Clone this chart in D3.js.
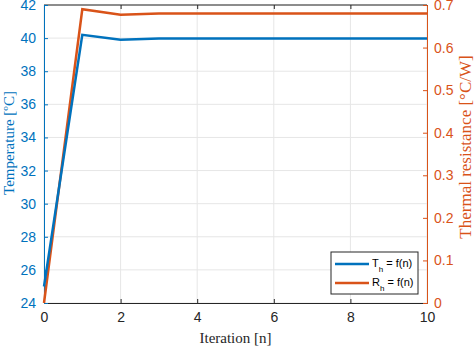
<!DOCTYPE html>
<html>
<head>
<meta charset="utf-8">
<script src="https://cdn.jsdelivr.net/npm/d3@7"></script>
<style>
  body { margin: 0; background: #fff; }
  svg { display: block; }
</style>
</head>
<body>
<div id="plot"></div>
<script>
// Chart data
const iterations = [0, 1, 2, 3, 4, 5, 6, 7, 8, 9, 10];
const tempValues = [25.0, 40.2, 39.9, 39.98, 39.97, 39.97, 39.97, 39.97, 39.97, 39.97, 39.97];
const resValues = [0.0, 0.69, 0.677, 0.68, 0.68, 0.68, 0.68, 0.68, 0.68, 0.68, 0.68];
const xTicks = [0, 2, 4, 6, 8, 10];
const tempTicks = [24, 26, 28, 30, 32, 34, 36, 38, 40, 42];
const resTicks = [0, 0.1, 0.2, 0.3, 0.4, 0.5, 0.6, 0.7];

const blue = "#0072BD";
const orange = "#D95319";

const width = 474, height = 350;
const margin = {top: 5, right: 47, bottom: 47, left: 44};
const innerWidth = width - margin.left - margin.right;
const innerHeight = height - margin.top - margin.bottom;

const svg = d3.select("#plot").append("svg")
    .attr("width", width)
    .attr("height", height);

const g = svg.append("g")
    .attr("transform", `translate(${margin.left},${margin.top})`);

const x = d3.scaleLinear().domain([0, 10]).range([0, innerWidth]);
const yTemp = d3.scaleLinear().domain([24, 42]).range([innerHeight, 0]);
const yRes = d3.scaleLinear().domain([0, 0.7]).range([innerHeight, 0]);

// Grid lines
g.append("g")
    .selectAll("line")
    .data(xTicks)
    .enter().append("line")
    .attr("x1", d => x(d)).attr("x2", d => x(d))
    .attr("y1", 0).attr("y2", innerHeight)
    .attr("stroke", "#e6e6e6").attr("stroke-width", 1);

g.append("g")
    .selectAll("line")
    .data(tempTicks)
    .enter().append("line")
    .attr("x1", 0).attr("x2", innerWidth)
    .attr("y1", d => yTemp(d)).attr("y2", d => yTemp(d))
    .attr("stroke", "#e6e6e6").attr("stroke-width", 1);

const tickFont = "'Liberation Sans', Arial, sans-serif";

// X axis
const xAxis = g.append("g")
    .attr("transform", `translate(0,${innerHeight})`)
    .call(d3.axisBottom(x).tickValues(xTicks).tickSize(-4).tickPadding(9).tickFormat(d3.format("d")))
    .attr("font-size", 14)
    .attr("font-family", tickFont);
xAxis.select(".domain").attr("stroke", "#262626");
xAxis.selectAll(".tick line").attr("stroke", "#262626");
xAxis.selectAll("text").attr("fill", "#262626");

// top border
g.append("line")
    .attr("x1", 0).attr("x2", innerWidth).attr("y1", 0).attr("y2", 0)
    .attr("stroke", "#262626");

const xTop = g.append("g")
    .call(d3.axisTop(x).tickValues(xTicks).tickSize(-4).tickFormat(""));
xTop.select(".domain").remove();
xTop.selectAll(".tick line").attr("stroke", "#262626");

// Left axis
const leftAxis = g.append("g")
    .call(d3.axisLeft(yTemp).tickValues(tempTicks).tickSize(-4).tickPadding(8))
    .attr("font-size", 14)
    .attr("font-family", tickFont);
leftAxis.select(".domain").attr("stroke", blue);
leftAxis.selectAll(".tick line").attr("stroke", blue);
leftAxis.selectAll("text").attr("fill", blue);

// Right axis
const rightAxis = g.append("g")
    .attr("transform", `translate(${innerWidth},0)`)
    .call(d3.axisRight(yRes).tickValues(resTicks).tickSize(-4).tickPadding(7)
        .tickFormat(d => d === 0 ? "0" : d3.format(".1f")(d)))
    .attr("font-size", 14)
    .attr("font-family", tickFont);
rightAxis.select(".domain").attr("stroke", orange);
rightAxis.selectAll(".tick line").attr("stroke", orange);
rightAxis.selectAll("text").attr("fill", orange);

// Lines
g.append("path")
    .datum(iterations.map((d, i) => ({n: d, v: resValues[i]})))
    .attr("fill", "none")
    .attr("stroke", orange)
    .attr("stroke-width", 2.5)
    .attr("d", d3.line().x(d => x(d.n)).y(d => yRes(d.v)));

g.append("path")
    .datum(iterations.map((d, i) => ({n: d, v: tempValues[i]})))
    .attr("fill", "none")
    .attr("stroke", blue)
    .attr("stroke-width", 2.5)
    .attr("d", d3.line().x(d => x(d.n)).y(d => yTemp(d.v)));

// Axis labels
const labelFont = "'Liberation Serif', 'Times New Roman', serif";

svg.append("text")
    .attr("x", margin.left + innerWidth / 2)
    .attr("y", 343)
    .attr("text-anchor", "middle")
    .style("font-family", labelFont)
    .style("font-size", "15px")
    .attr("fill", "#262626")
    .text("Iteration [n]");

svg.append("text")
    .attr("transform", "translate(14,143) rotate(-90)")
    .attr("text-anchor", "middle")
    .style("font-family", labelFont)
    .style("font-size", "15px")
    .attr("fill", blue)
    .text("Temperature [ºC]");

svg.append("text")
    .attr("transform", "translate(471,147) rotate(-90)")
    .attr("text-anchor", "middle")
    .style("font-family", labelFont)
    .style("font-size", "17px")
    .attr("fill", orange)
    .text("Thermal resistance [°C/W]");

// Legend
const legend = svg.append("g").attr("transform", "translate(331,252)");
legend.append("rect")
    .attr("width", 87).attr("height", 42)
    .attr("fill", "#fff").attr("stroke", "#262626").attr("stroke-width", 1);

const legendItems = [
    {sym: "T", color: blue},
    {sym: "R", color: orange}
];
legendItems.forEach((item, i) => {
    const ly = 12 + i * 19;
    legend.append("line")
        .attr("x1", 4).attr("x2", 38).attr("y1", ly).attr("y2", ly)
        .attr("stroke", item.color).attr("stroke-width", 2.5);
    const t = legend.append("text")
        .attr("x", 41).attr("y", ly + 3)
        .style("font-family", tickFont)
        .style("font-size", "11px")
        .attr("fill", "#000");
    t.append("tspan").text(item.sym);
    t.append("tspan").attr("dy", 5).style("font-size", "8px").text("h");
    t.append("tspan").attr("dy", -5).text(" = f(n)");
});
</script>
</body>
</html>
